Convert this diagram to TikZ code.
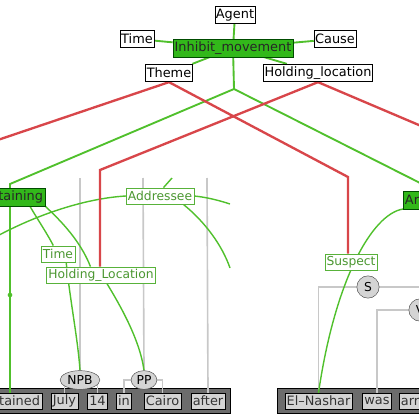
\documentclass[tikz,border=0pt]{standalone}
\usepackage{fontspec}
\setmainfont{DejaVu Sans}
\usetikzlibrary{shapes.geometric}
\pgfdeclarelayer{bar}
\pgfdeclarelayer{links}
\pgfsetlayers{bar,links,main}
\definecolor{fegreen}{RGB}{50,184,26}
\definecolor{feline}{RGB}{80,192,44}
\definecolor{fered}{RGB}{216,70,74}
\definecolor{rolegreen}{RGB}{88,178,58}
\definecolor{treegray}{RGB}{200,200,200}
\definecolor{wordgray}{RGB}{212,212,212}
\definecolor{bargray}{RGB}{108,108,108}
\begin{document}
\begin{tikzpicture}[x=0.03cm,y=-0.03cm,
    font=\fontsize{11}{13}\selectfont,
    fename/.style={draw=green!30!black,fill=fegreen,text=black!85,inner xsep=1.5pt,inner ysep=0pt,minimum height=15pt},
    feelem/.style={draw=black,fill=white,inner xsep=1pt,inner ysep=0pt,minimum height=14.5pt},
    rolebox/.style={draw=rolegreen,fill=white,text=rolegreen!85!black,inner xsep=1.5pt,inner ysep=0pt,minimum height=14pt,font=\fontsize{10.5}{12}\selectfont},
    wordbox/.style={draw=black,fill=wordgray,text=black!80,inner xsep=1.5pt,inner ysep=0pt,minimum height=13.5pt},
    treenode/.style={draw=black!70,fill=wordgray,inner sep=0pt,font=\fontsize{10.5}{12}\selectfont},
    framelink/.style={feline,line width=1.6pt},
    redlink/.style={fered,line width=2pt},
    rolelink/.style={feline,line width=1.2pt},
    treelink/.style={treegray,line width=1.4pt}]
    \useasboundingbox (0,0) rectangle (419,419);
    \clip (0,0) rectangle (419,419);
    % Frame and its elements
    \node[fename] (inhibit) at (233,48) {Inhibit\_movement};
    \node[feelem] (agent) at (235,15) {Agent};
    \node[feelem] (time) at (137,39) {Time};
    \node[feelem] (cause) at (335,39) {Cause};
    \node[feelem,line width=1.1pt] (theme) at (169,73) {Theme};
    \node[feelem,line width=1.1pt] (holdloc) at (318,73) {Holding\_location};
    \coordinate (split) at (234,89);
    % Frames below
    \node[fename,anchor=east] (detaining) at (45,197) {Detaining};
    \node[fename,anchor=west] (arrest) at (403,200) {Arrest};
    \coordinate (bendD) at (10,184);
    \coordinate (bendA) at (428,187);
    % Role labels
    \node[rolebox] (addressee) at (160,196) {Addressee};
    \node[rolebox] (timerole) at (58,254) {Time};
    \node[rolebox] (hlrole) at (101,275) {Holding\_Location};
    \node[rolebox] (suspect) at (351,262) {Suspect};
    \coordinate (arcL) at (-10,240);
    \coordinate (arcR) at (230,204);
    \coordinate (addrUp) at (172,178);
    \coordinate (addrDn) at (230,268);
    % Words
    \begin{pgfonlayer}{bar}
        \draw[fill=bargray] (-5,388) rectangle (230,413);
        \draw[fill=bargray] (277,388) rectangle (440,413);
    \end{pgfonlayer}
    \node[wordbox,anchor=east] (wdetained) at (42,401) {detained};
    \node[wordbox] (wjuly) at (64.5,401) {July};
    \node[wordbox] (wfourteen) at (97.5,401) {14};
    \node[wordbox] (win) at (124,401) {in};
    \node[wordbox] (wcairo) at (162.5,401) {Cairo};
    \node[wordbox] (wafter) at (208,401) {after};
    \node[wordbox] (welnashar) at (318.5,401) {El--Nashar};
    \node[wordbox] (wwas) at (377,401) {was};
    \node[wordbox,anchor=west] (warrested) at (399,401) {arrested};
    % Parse tree
    \node[treenode,ellipse,minimum width=34,minimum height=16] (npb) at (80,380) {NPB};
    \node[treenode,ellipse,minimum width=22,minimum height=16] (pp) at (144,380) {PP};
    \node[treenode,circle,minimum size=19] (s) at (368,287) {S};
    \node[treenode,circle,minimum size=19] (v) at (420,310) {V};
    \coordinate (npbUp) at (80,178);
    \coordinate (ppUp) at (143,178);
    \coordinate (afterUp) at (207,178);
    \coordinate (sRight) at (440,287);
    \begin{pgfonlayer}{links}
        % Tree lines
        \draw[treelink] (npbUp) -- (npb.north);
        \draw[treelink] (ppUp) -- (pp.north);
        \draw[treelink] (afterUp) -- (wafter.north);
        \draw[treelink] (npb.center) -| (wjuly.north);
        \draw[treelink] (npb.center) -| (wfourteen.north);
        \draw[treelink] (pp.center) -| (win.north);
        \draw[treelink] (pp.center) -| (wcairo.north);
        \draw[treelink] (sRight) -- (s.center) -| (welnashar.north);
        \draw[treelink] (v.center) -| (wwas.north);
        % Frame links
        \draw[framelink] (inhibit) -- (agent);
        \draw[framelink] (inhibit) -- (time);
        \draw[framelink] (inhibit) -- (cause);
        \draw[framelink] (inhibit) -- (theme);
        \draw[framelink] (inhibit) -- (holdloc);
        \draw[framelink] (inhibit) -- (split);
        \draw[framelink] (split) -- (bendD) -- (bendD |- wdetained.north);
        \draw[framelink] (split) -- (bendA) -- (bendA |- arrest.north);
        \fill[feline] (10,295) circle (2pt);
        % Role links
        \draw[rolelink] (arcL) .. controls (40,212) and (90,198) .. (addressee.west);
        \draw[rolelink] (addressee.east) .. controls (205,197) and (218,200) .. (arcR);
        \draw[rolelink] ([xshift=3pt]addressee.north) -- (addrUp);
        \draw[rolelink] ([xshift=20pt]addressee.south) .. controls (205,222) and (222,245) .. (addrDn);
        \draw[rolelink] ([xshift=-13pt]detaining.south east) .. controls (38,220) and (48,235) .. ([xshift=-4pt]timerole.north);
        \draw[rolelink] ([xshift=7pt]timerole.south) .. controls (70,300) and (78,340) .. (npb.north);
        \draw[rolelink] (detaining.south east) .. controls (60,220) and (80,240) .. ([xshift=-9pt]hlrole.north);
        \draw[rolelink] ([xshift=5pt]hlrole.south) .. controls (120,305) and (140,340) .. (pp.north);
        \draw[rolelink] (arrest.south west) .. controls (372,214) and (335,280) .. (welnashar.north);
    \end{pgfonlayer}
    % Red links
    \coordinate (redL) at (-20,146);
    \coordinate (redB) at (348,177);
    \coordinate (redC) at (100,170);
    \coordinate (redR) at (440,134);
    \begin{pgfonlayer}{links}
        \draw[redlink] (redL) -- (theme.south) -- (redB) -- (redB |- suspect.north);
        \draw[redlink] (redR) -- (holdloc.south) -- (redC) -- (redC |- hlrole.north);
    \end{pgfonlayer}
\end{tikzpicture}
\end{document}
